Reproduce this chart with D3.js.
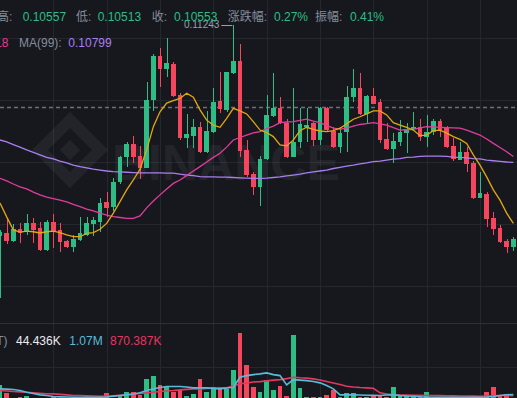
<!DOCTYPE html>
<html>
<head>
<meta charset="utf-8">
<script src="https://cdn.jsdelivr.net/npm/d3@7"></script>
<style>
html, body { margin: 0; padding: 0; background: #17181e; overflow: hidden; }
svg { display: block; }
text { font-family: "Liberation Sans", "Noto Sans CJK SC", sans-serif; }
</style>
</head>
<body>
<div id="chart"></div>
<script>
// candles, oldest first (the last one is the live candle)
var opens = [0.10561,0.10571,0.10545,0.10584,0.10574,0.10603,0.10587,0.10516,0.10606,0.10581,
  0.10545,0.10526,0.10548,0.10565,0.10600,0.10606,0.10671,0.10655,0.10735,0.10816,
  0.10858,0.10819,0.10781,0.11000,0.11142,0.11100,0.11116,0.11016,0.10877,0.10884,
  0.10913,0.10832,0.10897,0.10997,0.10968,0.11087,0.11126,0.10839,0.10761,0.10719,
  0.10810,0.10948,0.10974,0.10926,0.10816,0.10865,0.10913,0.10926,0.10871,0.10974,
  0.10900,0.10848,0.10897,0.11010,0.11039,0.10955,0.11013,0.10994,0.10874,0.10842,
  0.10865,0.10894,0.10906,0.10913,0.10881,0.10897,0.10932,0.10910,0.10852,0.10806,
  0.10832,0.10797,0.10684,0.10697,0.10619,0.10587,0.10545,0.10525];
var highs = [0.10581,0.10619,0.10600,0.10603,0.10632,0.10619,0.10606,0.10613,0.10632,0.10603,
  0.10548,0.10565,0.10623,0.10623,0.10623,0.10684,0.10703,0.10748,0.10819,0.10865,
  0.10884,0.10852,0.11058,0.11148,0.11168,0.11200,0.11123,0.11023,0.10955,0.10939,
  0.10929,0.10965,0.11039,0.11090,0.11090,0.11243,0.11181,0.10871,0.10768,0.10819,
  0.11016,0.11087,0.11010,0.10939,0.11039,0.10974,0.10974,0.10929,0.10977,0.10977,
  0.10913,0.10913,0.11045,0.11100,0.11087,0.11016,0.11039,0.11003,0.10926,0.10894,
  0.10935,0.10926,0.10961,0.10939,0.10952,0.10939,0.10939,0.10916,0.10877,0.10865,
  0.10848,0.10803,0.10768,0.10703,0.10639,0.10597,0.10552,0.10557];
var lows = [0.10361,0.10535,0.10542,0.10539,0.10565,0.10539,0.10513,0.10513,0.10523,0.10510,
  0.10523,0.10510,0.10545,0.10561,0.10561,0.10574,0.10623,0.10642,0.10729,0.10784,
  0.10797,0.10745,0.10781,0.10965,0.11042,0.11074,0.11010,0.10871,0.10845,0.10845,
  0.10829,0.10829,0.10894,0.10958,0.10961,0.11084,0.10816,0.10752,0.10694,0.10658,
  0.10806,0.10945,0.10923,0.10813,0.10816,0.10845,0.10865,0.10852,0.10855,0.10897,
  0.10845,0.10829,0.10832,0.10994,0.10952,0.10926,0.10987,0.10861,0.10839,0.10797,
  0.10852,0.10829,0.10903,0.10868,0.10848,0.10887,0.10881,0.10845,0.10803,0.10806,
  0.10768,0.10681,0.10684,0.10590,0.10565,0.10539,0.10506,0.10513];
var closes = [0.10574,0.10545,0.10584,0.10571,0.10603,0.10581,0.10516,0.10606,0.10574,0.10542,
  0.10526,0.10552,0.10571,0.10603,0.10613,0.10668,0.10652,0.10735,0.10816,0.10858,
  0.10816,0.10781,0.11000,0.11142,0.11100,0.11119,0.11013,0.10877,0.10890,0.10913,
  0.10832,0.10900,0.10994,0.10971,0.11090,0.11126,0.10835,0.10758,0.10719,0.10810,
  0.10952,0.10974,0.10926,0.10816,0.10865,0.10923,0.10919,0.10871,0.10974,0.10903,
  0.10848,0.10894,0.11010,0.11039,0.10955,0.11013,0.10987,0.10871,0.10842,0.10868,
  0.10897,0.10906,0.10913,0.10881,0.10897,0.10932,0.10903,0.10848,0.10810,0.10832,
  0.10794,0.10684,0.10700,0.10616,0.10584,0.10542,0.10525,0.10553];

// price moving averages as shown
var ma7 = [0.10668,0.10623,0.10581,0.10574,0.10577,0.10575,0.10571,0.10575,0.10577,0.10572,
  0.10565,0.10559,0.10559,0.10570,0.10572,0.10583,0.10602,0.10635,0.10672,0.10710,
  0.10742,0.10777,0.10839,0.10914,0.10962,0.10990,0.10998,0.11005,0.11022,0.11009,
  0.10968,0.10935,0.10919,0.10912,0.10941,0.10973,0.10965,0.10955,0.10930,0.10903,
  0.10895,0.10882,0.10855,0.10852,0.10871,0.10901,0.10912,0.10905,0.10900,0.10898,
  0.10901,0.10909,0.10923,0.10938,0.10946,0.10955,0.10965,0.10965,0.10952,0.10927,
  0.10919,0.10912,0.10903,0.10885,0.10887,0.10901,0.10903,0.10893,0.10882,0.10873,
  0.10860,0.10823,0.10790,0.10752,0.10710,0.10677,0.10635,0.10602];
var ma25 = [0.10747,0.10739,0.10729,0.10720,0.10713,0.10703,0.10694,0.10687,0.10682,0.10677,
  0.10671,0.10663,0.10656,0.10648,0.10642,0.10635,0.10629,0.10624,0.10621,0.10618,
  0.10618,0.10626,0.10652,0.10674,0.10694,0.10713,0.10731,0.10742,0.10756,0.10771,
  0.10785,0.10800,0.10815,0.10828,0.10848,0.10871,0.10879,0.10887,0.10894,0.10898,
  0.10908,0.10916,0.10927,0.10929,0.10930,0.10934,0.10938,0.10932,0.10927,0.10918,
  0.10909,0.10906,0.10909,0.10916,0.10921,0.10924,0.10927,0.10923,0.10919,0.10911,
  0.10903,0.10904,0.10905,0.10910,0.10914,0.10913,0.10912,0.10911,0.10910,0.10909,
  0.10903,0.10895,0.10887,0.10874,0.10860,0.10847,0.10833,0.10818];
var ma99 = [0.10871,0.10865,0.10856,0.10848,0.10839,0.10831,0.10823,0.10815,0.10810,0.10803,
  0.10797,0.10790,0.10785,0.10781,0.10777,0.10774,0.10771,0.10769,0.10768,0.10767,
  0.10766,0.10765,0.10765,0.10765,0.10765,0.10764,0.10764,0.10761,0.10758,0.10756,
  0.10753,0.10752,0.10752,0.10751,0.10751,0.10750,0.10749,0.10748,0.10747,0.10747,
  0.10748,0.10750,0.10752,0.10755,0.10758,0.10761,0.10765,0.10768,0.10771,0.10774,
  0.10779,0.10783,0.10787,0.10790,0.10794,0.10797,0.10801,0.10803,0.10806,0.10809,
  0.10811,0.10815,0.10816,0.10818,0.10819,0.10819,0.10819,0.10818,0.10816,0.10815,
  0.10813,0.10811,0.10810,0.10806,0.10804,0.10802,0.10800,0.10799];

// volume in thousands (USDT)
var volumes = [2108,1284,749,856,963,749,535,535,856,535,
  535,535,589,589,642,696,1209,642,963,1391,
  1316,1070,2782,3103,2140,1851,1391,1605,888,1177,
  2782,1316,1851,1851,1712,3745,7704,4280,1926,1391,
  2675,1605,2033,963,7490,1744,781,856,856,1070,
  1605,856,1284,1284,856,856,963,963,781,1926,
  888,963,781,856,1391,781,749,696,724,696,
  696,749,696,1316,1851,963,1177,44.436];
var volMa5 = [1680,1648,1605,1498,1316,1177,1038,963,856,824,
  803,781,781,781,781,781,803,888,963,1038,
  1124,1252,1498,1680,1819,1926,1926,1926,1873,1787,
  1787,1787,1733,1680,1766,1851,2921,3103,3210,3285,
  3392,3210,3103,2108,2675,2622,2568,2461,2322,2033,
  1680,1038,1038,1038,1017,995,984,963,1017,1038,
  963,910,888,835,781,781,781,781,781,781,
  781,781,781,803,856,963,1049,1070];
var volMa10 = [1498,1445,1391,1359,1316,1252,1198,1156,1145,1091,
  1038,963,963,931,910,888,910,942,984,1038,
  1102,1177,1252,1316,1391,1445,1498,1573,1626,1680,
  1680,1712,1744,1787,1787,1980,2215,2301,2408,2461,
  2536,2622,2675,2782,2921,2868,2836,2750,2622,2461,
  2301,2140,1958,1873,1819,1787,1744,1252,1124,1038,
  1017,1006,995,984,974,963,952,942,931,920,
  910,899,888,910,931,963,995,940];

// header readings for the live candle
var statLabels = ["高:", "低:", "收:", "涨跌幅:", "振幅:"];
var statValues = ["0.10557", "0.10513", "0.10553", "0.27%", "0.41%"];
var volLegend = ["44.436K", "1.07M", "870.387K"];

var priceTicks = [0.104, 0.106, 0.108, 0.110, 0.112];
var volTicks = [4000];
var gridEvery = 8;          // candles between vertical grid lines
var guidePrice = 0.10976;   // dashed horizontal line

var W = 517, H = 398;
var up = "#2ebd85", down = "#f6465d";

var svg = d3.select("#chart").append("svg")
    .attr("width", W)
    .attr("height", H);

svg.append("rect")
    .attr("width", W)
    .attr("height", H)
    .attr("fill", "#17181e");

var x = d3.scaleLinear()
    .domain([0, opens.length - 1])
    .range([0, (opens.length - 1) * 6.6667]);

var y = d3.scaleLinear()
    .domain([0.104, 0.112])
    .range([286, 38]);

var yv = d3.scaleLinear()
    .domain([0, 8000])
    .range([404.5, 330]);

// grid
var grid = svg.append("g").attr("shape-rendering", "crispEdges");
grid.selectAll("line.h")
    .data(priceTicks)
    .enter().append("line")
    .attr("x1", 0).attr("x2", W)
    .attr("y1", function(d) { return Math.round(y(d)); })
    .attr("y2", function(d) { return Math.round(y(d)); })
    .attr("stroke", "#24272e");
grid.selectAll("line.vh")
    .data(volTicks)
    .enter().append("line")
    .attr("x1", 0).attr("x2", W)
    .attr("y1", function(d) { return Math.round(yv(d)); })
    .attr("y2", function(d) { return Math.round(yv(d)); })
    .attr("stroke", "#24272e");
grid.selectAll("line.v")
    .data(d3.range(gridEvery, opens.length, gridEvery))
    .enter().append("line")
    .attr("x1", function(d) { return Math.round(x(d)); })
    .attr("x2", function(d) { return Math.round(x(d)); })
    .attr("y1", 0).attr("y2", H)
    .attr("stroke", "#24272e");
grid.append("line")
    .attr("x1", 0).attr("x2", W)
    .attr("y1", 323).attr("y2", 323)
    .attr("stroke", "#2b2f36");

// watermark
var wm = svg.append("g").attr("opacity", 0.05).attr("fill", "#ffffff");
wm.append("path")
    .attr("d", "M70,112 L108,150 L70,188 L32,150 Z M70,128 L48,150 L70,172 L92,150 Z")
    .attr("fill-rule", "evenodd");
wm.append("path").attr("d", "M70,140 L80,150 L70,160 L60,150 Z");
wm.append("text")
    .attr("x", 112).attr("y", 180)
    .attr("font-size", 50)
    .attr("font-weight", "bold")
    .text("BINANCE");

// dashed guide
svg.append("line")
    .attr("x1", 0).attr("x2", W)
    .attr("y1", Math.round(y(guidePrice)) + 0.5)
    .attr("y2", Math.round(y(guidePrice)) + 0.5)
    .attr("stroke", "#6b7079")
    .attr("stroke-width", 1.5)
    .attr("stroke-dasharray", "4,3");

var idx = d3.range(opens.length);
function col(i) { return closes[i] >= opens[i] ? up : down; }

// volume bars
svg.append("g").attr("shape-rendering", "crispEdges")
    .selectAll("rect")
    .data(idx)
    .enter().append("rect")
    .attr("x", function(i) { return x(i) - 2.3; })
    .attr("width", 4.6)
    .attr("y", function(i) { return yv(volumes[i]); })
    .attr("height", function(i) { return yv(0) - yv(volumes[i]); })
    .attr("fill", col);

var line = function(arr, sc) {
    return d3.line()
        .x(function(d, i) { return x(i); })
        .y(function(d) { return sc(d); })(arr);
};

svg.append("path").attr("d", line(volMa10, yv))
    .attr("fill", "none").attr("stroke", "#e2395f").attr("stroke-width", 1.6);
svg.append("path").attr("d", line(volMa5, yv))
    .attr("fill", "none").attr("stroke", "#58bcd9").attr("stroke-width", 1.6);

// candles
var candles = svg.append("g").attr("shape-rendering", "crispEdges")
    .selectAll("g")
    .data(idx)
    .enter().append("g");
candles.append("line")
    .attr("x1", function(i) { return Math.round(x(i)) + 0.5; })
    .attr("x2", function(i) { return Math.round(x(i)) + 0.5; })
    .attr("y1", function(i) { return y(highs[i]); })
    .attr("y2", function(i) { return y(lows[i]); })
    .attr("stroke", col);
candles.append("rect")
    .attr("x", function(i) { return x(i) - 2.3; })
    .attr("width", 4.6)
    .attr("y", function(i) { return y(Math.max(opens[i], closes[i])); })
    .attr("height", function(i) { return Math.max(1, Math.abs(y(opens[i]) - y(closes[i]))); })
    .attr("fill", col);

// price MAs
svg.append("path").attr("d", line(ma99, y))
    .attr("fill", "none").attr("stroke", "#a97ff0").attr("stroke-width", 1.3);
svg.append("path").attr("d", line(ma25, y))
    .attr("fill", "none").attr("stroke", "#e03c9e").attr("stroke-width", 1.3);
svg.append("path").attr("d", line(ma7, y))
    .attr("fill", "none").attr("stroke", "#e2a80e").attr("stroke-width", 1.3);

// highest price marker
var hi = d3.maxIndex(highs);
var fmt = d3.format(".5f");
svg.append("line")
    .attr("x1", x(hi) - 12).attr("x2", x(hi) - 1)
    .attr("y1", Math.round(y(highs[hi])) + 0.5).attr("y2", Math.round(y(highs[hi])) + 0.5)
    .attr("stroke", "#9aa0a8");
svg.append("text")
    .attr("x", x(hi) - 14).attr("y", y(highs[hi]) + 3.5)
    .attr("text-anchor", "end")
    .attr("font-size", 10)
    .attr("fill", "#9aa0a8")
    .text(fmt(highs[hi]));

// header texts
var grey = "#848e9c";
var last = opens.length - 1;
var labelX = [-3, 76, 151.7, 227.7, 315];
var valueX = [22.7, 97.7, 174, 274, 350];
var head = [];
statLabels.forEach(function(t, i) {
    head.push({ x: labelX[i], t: t, c: grey });
    head.push({ x: valueX[i], t: statValues[i], c: up });
});
svg.selectAll("text.head")
    .data(head)
    .enter().append("text")
    .attr("x", function(d) { return d.x; })
    .attr("y", 21)
    .attr("font-size", 12)
    .attr("fill", function(d) { return d.c; })
    .text(function(d) { return d.t; });

var maHead = [
    { x: 8.5, t: "MA(25): " + fmt(ma25[last]), c: "#e03c9e", a: "end" },
    { x: 19, t: "MA(99):", c: grey, a: "start" },
    { x: 68.3, t: fmt(ma99[last]), c: "#a97ff0", a: "start" }
];
svg.selectAll("text.ma")
    .data(maHead)
    .enter().append("text")
    .attr("x", function(d) { return d.x; })
    .attr("y", 47)
    .attr("font-size", 12)
    .attr("text-anchor", function(d) { return d.a; })
    .attr("fill", function(d) { return d.c; })
    .text(function(d) { return d.t; });

var volHead = [
    { x: 7.5, t: "Vol(USDT)", c: grey, a: "end" },
    { x: 16, t: volLegend[0], c: "#eaecef", a: "start" },
    { x: 69.3, t: volLegend[1], c: "#58bcd9", a: "start" },
    { x: 110, t: volLegend[2], c: "#e2395f", a: "start" }
];
svg.selectAll("text.vol")
    .data(volHead)
    .enter().append("text")
    .attr("x", function(d) { return d.x; })
    .attr("y", 345)
    .attr("font-size", 12)
    .attr("text-anchor", function(d) { return d.a; })
    .attr("fill", function(d) { return d.c; })
    .text(function(d) { return d.t; });
</script>
</body>
</html>
